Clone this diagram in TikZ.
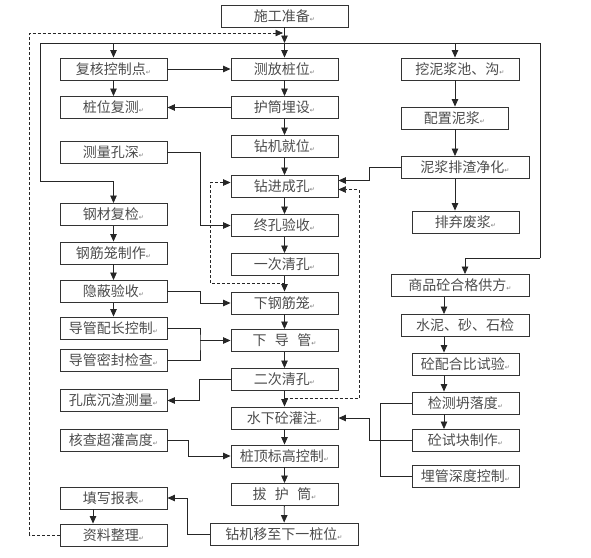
\documentclass[tikz,border=0pt]{standalone}
\usepackage{fontspec}
\setmainfont{Liberation Serif}
\newfontfamily\cjk{Noto Sans CJK SC}
\newfontfamily\symf{DejaVu Sans}
\usetikzlibrary{arrows.meta}
\newcommand{\rt}{{\symf\fontsize{6}{6}\selectfont\textcolor{black!55}{↵}}}
\tikzset{
  box/.style={draw=black!80, line width=0.9pt, minimum height=22pt, inner sep=0pt,
    font=\cjk\fontsize{14}{14}\selectfont, text=black!70},
  arr/.style={-{Triangle[length=7.5pt,width=6.5pt]}, line width=0.8pt, draw=black!85},
  ln/.style={line width=0.8pt, draw=black!85},
  dsh/.style={dash pattern=on 3pt off 2pt, line width=0.7pt, draw=black!85}
}
\begin{document}
\begin{tikzpicture}[x=1pt,y=-1pt]
\useasboundingbox (0,0) rectangle (591,557);
% column coordinates
\coordinate (cR1) at (455,0);
\coordinate (cR2) at (444,0);
\coordinate (cLL) at (93,0);
% top
\node[box, minimum width=127pt] (prep) at (284.5,16) {施工准备\rt};
% center column
\node[box, minimum width=107pt] (cfzw) at (284.5,69) {测放桩位\rt};
\node[box, minimum width=107pt] (hmmd) at (284.5,107.5) {护筒埋设\rt};
\node[box, minimum width=107pt] (zjjw) at (284.5,146.5) {钻机就位\rt};
\node[box, minimum width=107pt] (zjck) at (284.5,186.5) {钻进成孔\rt};
\node[box, minimum width=107pt] (zkys) at (284.5,225.5) {终孔验收\rt};
\node[box, minimum width=107pt] (ycqk) at (284.5,264.5) {一次清孔\rt};
\node[box, minimum width=107pt] (xgjl) at (284.5,303) {下钢筋笼\rt};
\node[box, minimum width=107pt] (xdg) at (284.5,340.5) {下\hspace{0.6em}导\hspace{0.6em}管\rt};
\node[box, minimum width=107pt] (ecqk) at (284.5,379.5) {二次清孔\rt};
\node[box, minimum width=107pt] (sxgz) at (284.5,418) {水下砼灌注\rt};
\node[box, minimum width=107pt] (zdbg) at (284.5,456) {桩顶标高控制\rt};
\node[box, minimum width=107pt] (bhd) at (284.5,494.5) {拔\hspace{0.6em}护\hspace{0.6em}筒\rt};
\node[box, minimum width=148pt] (zjyz) at (284,534) {钻机移至下一桩位\rt};
% left column
\node[box, minimum width=107pt] (fhkz) at (113.5,69) {复核控制点\rt};
\node[box, minimum width=107pt] (zwfc) at (113.5,107.5) {桩位复测\rt};
\node[box, minimum width=107pt] (clks) at (113.5,152.5) {测量孔深\rt};
\node[box, minimum width=107pt] (gcfj) at (113.5,214.5) {钢材复检\rt};
\node[box, minimum width=107pt] (gjlz) at (113.5,253) {钢筋笼制作\rt};
\node[box, minimum width=107pt] (ybys) at (113.5,291.5) {隐蔽验收\rt};
\node[box, minimum width=107pt] (dgpc) at (113.5,328) {导管配长控制\rt};
\node[box, minimum width=107pt] (dgmf) at (113.5,360.5) {导管密封检查\rt};
\node[box, minimum width=107pt] (kdcz) at (113.5,400.5) {孔底沉渣测量\rt};
\node[box, minimum width=107pt] (hccg) at (113.5,440.5) {核查超灌高度\rt};
\node[box, minimum width=107pt] (txbb) at (113.5,498) {填写报表\rt};
\node[box, minimum width=107pt] (zlzl) at (113.5,535) {资料整理\rt};
% right column
\node[box, minimum width=118pt] (wnjc) at (460,69) {挖泥浆池、沟\rt};
\node[box, minimum width=107pt] (pzjn) at (454.5,118) {配置泥浆\rt};
\node[box, minimum width=128pt] (njpz) at (465,167.5) {泥浆排渣净化\rt};
\node[box, minimum width=107pt] (pqfj) at (465.5,222) {排弃废浆\rt};
\node[box, minimum width=138pt] (spgf) at (460,285.5) {商品砼合格供方\rt};
\node[box, minimum width=128pt] (snss) at (465,325.5) {水泥、砂、石检};
\node[box, minimum width=107pt] (phb) at (465.5,364) {砼配合比试验\rt};
\node[box, minimum width=107pt] (jctl) at (465.5,403) {检测坍落度\rt};
\node[box, minimum width=107pt] (sksz) at (465.5,440.5) {砼试块制作\rt};
\node[box, minimum width=107pt] (mgsd) at (465.5,476.5) {埋管深度控制\rt};
% top distribution line
\coordinate (jT) at (284.5,43);
\coordinate (tL) at (40,43);
\coordinate (tR) at (540,43);
\coordinate (jL) at (113.5,43);
\coordinate (jR) at (455,43);
\coordinate (dTop) at (283,33);
\draw[arr] (prep.south) -- (jT);
\draw[ln] (tL) -- (tR);
\draw[arr] (jT) -- (cfzw.north);
\draw[arr] (jL) -- (fhkz.north);
\draw[arr] (jR) -- (wnjc.north -| cR1);
\draw[ln] (tL) -- (40,181) coordinate (tL2);
\draw[arr] (tL2) -| (gcfj.north);
\draw[ln] (tR) -- (540,258) coordinate (tR2);
\coordinate (sp) at (465,0);
\draw[arr] (tR2) -| (spgf.north -| sp);
% center chain
\draw[arr] (cfzw) -- (hmmd);
\draw[arr] (hmmd) -- (zjjw);
\draw[arr] (zjjw) -- (zjck);
\draw[arr] (zjck) -- (zkys);
\draw[arr] (zkys) -- (ycqk);
\draw[arr] (ycqk) -- (xgjl);
\draw[arr] (xgjl) -- (xdg);
\draw[arr] (xdg) -- (ecqk);
\draw[arr] (ecqk) -- (sxgz);
\draw[arr] (sxgz) -- (zdbg);
\draw[arr] (zdbg) -- (bhd);
\draw[arr] (bhd) -- (zjyz);
% left chain
\draw[arr] (fhkz.east) -- (cfzw.west);
\draw[arr] (fhkz) -- (zwfc);
\draw[arr] (hmmd.west) -- (zwfc.east);
\draw[arr] (clks.east) -- ++(33,0) |- (zkys.west);
\draw[arr] (gcfj) -- (gjlz);
\draw[arr] (gjlz) -- (ybys);
\draw[arr] (ybys) -- (dgpc);
\draw[arr] (ybys.east) -- ++(33,0) |- (xgjl.west);
\coordinate (jD) at (200,340.5);
\draw[ln] (dgpc.east) -| (jD) |- (dgmf.east);
\draw[arr] (jD) -- (xdg.west);
\draw[arr] (ecqk.west) -- ++(-31,0) |- (kdcz.east);
\draw[arr] (hccg.east) -- ++(21,0) |- (zdbg.west);
\draw[arr] (zjyz.west) -- ++(-22,0) |- (txbb.east);
\draw[arr] (txbb.south -| cLL) -- (zlzl.north -| cLL);
\draw[dsh, -{Triangle[length=7.5pt,width=6.5pt]}] (zlzl.west) -- ++(-30,0) |- (dTop);
% dashed loops
\coordinate (dl1) at (284.5,283);
\draw[dsh, -{Triangle[length=7.5pt,width=6.5pt]}] (dl1) -- ++(-74.5,0) |- ([yshift=4pt]zjck.west);
\coordinate (dl2) at (284.5,398);
\draw[dsh, -{Triangle[length=7.5pt,width=6.5pt]}] (dl2) -- ++(74.5,0) |- ([yshift=-3pt]zjck.east);
% right chains
\draw[arr] (wnjc.south -| cR1) -- (pzjn.north -| cR1);
\draw[arr] (pzjn.south -| cR1) -- (njpz.north -| cR1);
\draw[arr] (njpz.south -| cR1) -- (pqfj.north -| cR1);
\draw[arr] (njpz.west) -- ++(-31,0) |- ([yshift=6pt]zjck.east);
\draw[arr] (spgf.south -| cR2) -- (snss.north -| cR2);
\draw[arr] (snss.south -| cR2) -- (phb.north -| cR2);
\draw[arr] (phb.south -| cR2) -- (jctl.north -| cR2);
\draw[arr] (jctl.south -| cR2) -- (sksz.north -| cR2);
\draw[ln] (jctl.west) -- ++(-31,0) |- (mgsd.west);
\draw[arr] (sksz.west) -- ++(-42,0) |- (sxgz.east);
\end{tikzpicture}
\end{document}
